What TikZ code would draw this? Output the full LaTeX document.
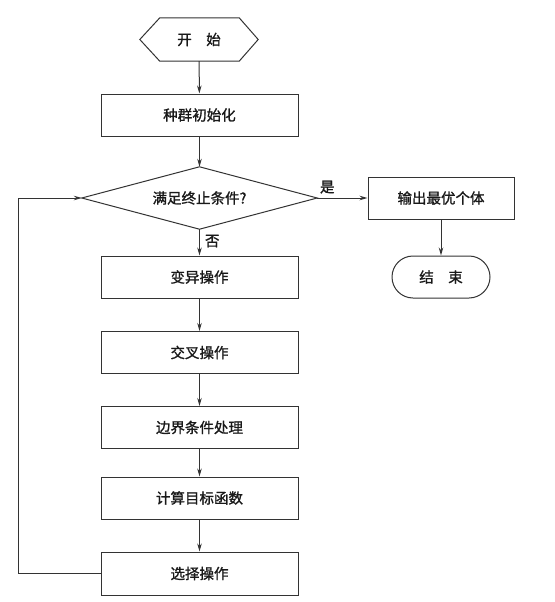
\documentclass[tikz,border=0pt]{standalone}
\usepackage{fontspec}
\newfontfamily\cjk{Noto Sans CJK SC}[FakeBold=1.2]
\usetikzlibrary{arrows.meta}
\begin{document}
\begin{tikzpicture}[x=1pt,y=-1pt,
  every node/.style={font=\cjk\fontsize{14.5}{17}\selectfont, text=black!90, inner sep=0pt},
  box/.style={draw=black!80, line width=1pt, minimum width=197pt, minimum height=42pt},
  plain/.style={minimum width=#1, minimum height=42pt},
  arr/.style={draw=black!80, line width=1pt, -{Stealth[length=8pt,width=4.5pt]}},
  edge/.style={draw=black!80, line width=1pt, line join=miter}]
\useasboundingbox[fill=white] (0,0) rectangle (554,602);
% start hexagon
\node[plain=118pt, minimum height=43pt] (start) at (199,39.5) {开\hspace{1em}始};
\draw[edge] (start.west) -- ([xshift=20pt]start.north west) -- ([xshift=-19pt]start.north east)
  -- (start.east) -- ([xshift=-19pt]start.south east) -- ([xshift=20pt]start.south west) -- cycle;
\node[box] (init) at (199.5,115) {种群初始化};
% decision diamond
\node[plain=235pt, minimum height=62pt] (dec) at (199.5,198) {满足终止条件?};
\draw[edge] (dec.west) -- (dec.north) -- (dec.east) -- (dec.south) -- cycle;
\node[box, minimum width=146pt] (out) at (441,198) {输出最优个体};
\node[box, minimum width=98pt, rounded corners=21pt] (end) at (441,277) {结\hspace{1em}束};
\node[box] (mut) at (199.5,277) {变异操作};
\node[box] (cross) at (199.5,352.5) {交叉操作};
\node[box] (bound) at (199.5,427.5) {边界条件处理};
\node[box] (calc) at (199.5,498) {计算目标函数};
\node[box, minimum height=43pt] (sel) at (199.5,573.5) {选择操作};
% connectors
\draw[arr] (start) -- (init);
\draw[arr] (init) -- (dec.north);
\draw[arr] (dec.east) -- node[pos=0.2, above=4pt] (yes) {是} (out.west);
\draw[arr] (dec.south) -- node[pos=0.45, right=5pt] (no) {否} (mut.north);
\draw[arr] (out) -- (end);
\draw[arr] (mut) -- (cross);
\draw[arr] (cross) -- (bound);
\draw[arr] (bound) -- (calc);
\draw[arr] (calc) -- (sel);
\coordinate (loop) at (18,0);
\draw[arr] (sel.west) -| (loop |- dec.west) -- (dec.west);
\end{tikzpicture}
\end{document}
